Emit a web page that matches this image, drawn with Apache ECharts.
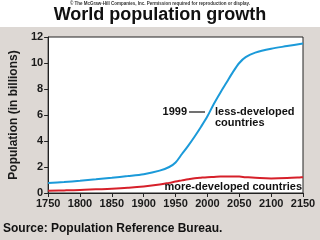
<!DOCTYPE html>
<html><head><meta charset="utf-8">
<script src="https://cdn.jsdelivr.net/npm/echarts@6/dist/echarts.min.js"></script>
<style>html,body{margin:0;padding:0;background:#fff}#c{width:320px;height:240px}</style>
</head><body><div id="c"></div>
<script>
var years = [1750,1775,1800,1825,1850,1875,1900,1925,1940,1950,1960,1970,1980,1990,2000,2010,2020,2030,2040,2050,2060,2075,2100,2125,2150];
var lessDeveloped = [0.77,0.85,0.94,1.05,1.17,1.3,1.45,1.72,2.0,2.35,3.0,3.65,4.35,5.1,5.9,6.85,7.7,8.5,9.3,10.0,10.45,10.8,11.1,11.3,11.5];
var moreDeveloped = [0.18,0.2,0.23,0.28,0.33,0.4,0.5,0.65,0.78,0.88,0.97,1.06,1.13,1.18,1.22,1.24,1.26,1.27,1.27,1.26,1.22,1.17,1.12,1.15,1.22];
var yTicks = [0,2,4,6,8,10,12];
var xTicks = [1750,1800,1850,1900,1950,2000,2050,2100,2150];

function pairs(xs, ys){ return xs.map(function(x,i){ return [x, ys[i]]; }); }

var chart = echarts.init(document.getElementById('c'), null, {renderer:'canvas'});
var FONT = 'Liberation Sans, Arial, sans-serif';
var BG = '#ddd8d4';
chart.setOption({
  backgroundColor: '#fff',
  animation: false,
  grid: {left: 35, right: 17, top: 37, bottom: 47, show: true, backgroundColor: '#fff', borderColor: '#222', borderWidth: 1},
  xAxis: {
    type: 'value', min: xTicks[0], max: xTicks[xTicks.length-1], interval: 50,
    axisLine: {lineStyle: {color: '#222', width: 1}},
    axisTick: {show: true, length: 4, lineStyle: {color: '#222'}},
    splitLine: {show: false},
    axisLabel: {color: '#1a1a1a', fontFamily: FONT, fontWeight: 'bold', fontSize: 11, margin: 5, formatter: function(v){return String(v);}}
  },
  yAxis: {
    type: 'value', min: yTicks[0], max: yTicks[yTicks.length-1], interval: 2,
    axisLine: {show: true, lineStyle: {color: '#222', width: 1}},
    axisTick: {show: true, length: 4, lineStyle: {color: '#222'}},
    splitLine: {show: false},
    axisLabel: {color: '#1a1a1a', fontFamily: FONT, fontWeight: 'bold', fontSize: 11, margin: 5},
    name: 'Population (in billions)', nameLocation: 'middle', nameGap: 24,
    nameTextStyle: {color: '#1a1a1a', fontFamily: FONT, fontWeight: 'bold', fontSize: 12}
  },
  series: [
    {type: 'line', data: pairs(years, lessDeveloped), smooth: 0.3, symbol: 'none', lineStyle: {color: '#1b9ad9', width: 2}, z: 3},
    {type: 'line', data: pairs(years, moreDeveloped), smooth: 0.4, symbol: 'none', lineStyle: {color: '#d6202a', width: 2}, z: 3}
  ],
  graphic: [
    {type: 'rect', z: -10, silent: true, shape: {x: 0, y: 27, width: 320, height: 213}, style: {fill: BG}},
    {type: 'text', left: 'center', top: 1, style: {text: '© The McGraw-Hill Companies, Inc. Permission required for reproduction or display.', fontSize: 4.5, fontFamily: FONT, fontWeight: 'bold', fill: '#333'}},
    {type: 'text', left: 'center', top: 6, style: {text: 'World population growth', fontSize: 18, fontFamily: FONT, fontWeight: 'bold', fill: '#111'}},
    {type: 'text', left: 3, top: 223, style: {text: 'Source: Population Reference Bureau.', fontSize: 12, fontFamily: FONT, fontWeight: 'bold', fill: '#111'}},
    {type: 'text', x: 187, y: 112, z: 10, style: {text: '1999', fontSize: 11, fontFamily: FONT, fontWeight: 'bold', fill: '#111', align: 'right', verticalAlign: 'middle'}},
    {type: 'line', z: 10, shape: {x1: 189, y1: 112, x2: 205, y2: 112}, style: {stroke: '#111', lineWidth: 1.2}},
    {type: 'text', x: 215, y: 106, z: 10, style: {text: 'less-developed\ncountries', fontSize: 11, lineHeight: 11, fontFamily: FONT, fontWeight: 'bold', fill: '#111', align: 'left', verticalAlign: 'top'}},
    {type: 'text', x: 302, y: 187, z: 10, style: {text: 'more-developed countries', fontSize: 11, fontFamily: FONT, fontWeight: 'bold', fill: '#111', align: 'right', verticalAlign: 'middle'}}
  ]
});
</script></body></html>
